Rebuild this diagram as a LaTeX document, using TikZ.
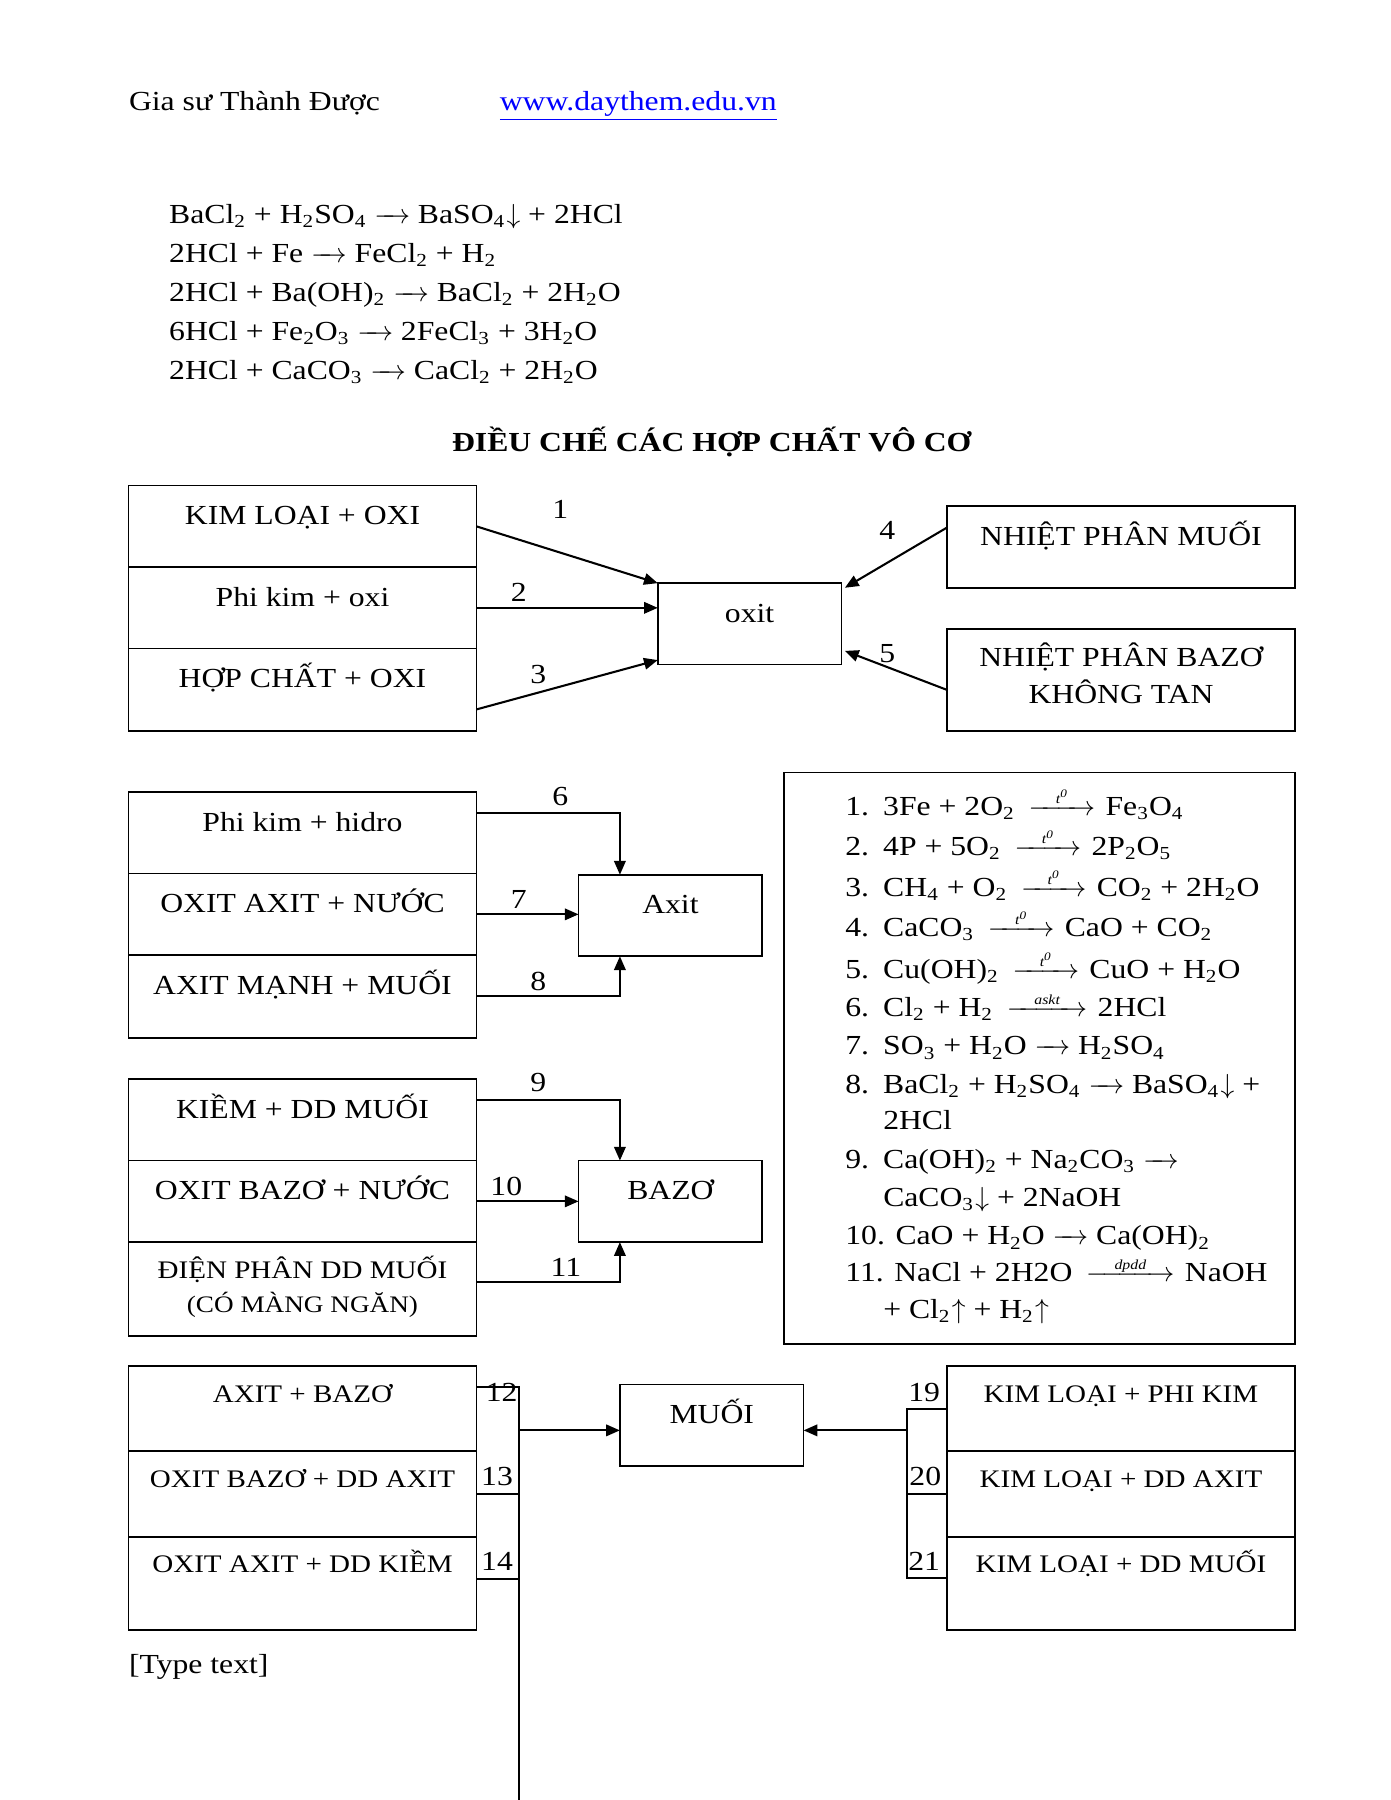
\documentclass[tikz,border=0pt]{standalone}
\usepackage{fontspec}
\setmainfont{Liberation Serif}[FakeStretch=1.15]
\usetikzlibrary{arrows.meta,calc}
\newcommand\lo[1]{\textsubscript{#1}}
\newcommand\ar{\makebox[15.5pt]{\rightarrowfill}}
\newcommand\dn{\hspace{0.5pt}$\downarrow$}
\newcommand\up{\hspace{0.5pt}$\uparrow$}
\newcommand\rx[2]{\hspace*{6pt}\makebox[#1]{\rightarrowfill}\llap{\makebox[#1]{\smash{\raisebox{5.2pt}{\fontsize{6}{6}\selectfont\itshape #2}}}}\hspace*{4.5pt}}
\newcommand\tz{t\textsuperscript{0}}
\newcommand\nm[1]{\makebox[16.5pt][l]{#1}}
\tikzset{
  every node/.style={font=\fontsize{12}{14}\selectfont},
  bx/.style 2 args={draw, line width=0.7pt, inner sep=0pt, outer sep=0pt, minimum width=#1, minimum height=#2},
  txt/.style={inner sep=0pt, anchor=base},
  stxt/.style={inner sep=0pt, anchor=base, font=\fontsize{11}{13}\selectfont},
  ltxt/.style={inner sep=0pt, anchor=base west},
  lab/.style={inner sep=0pt, anchor=base},
  arr/.style={line width=0.9pt, -{Triangle[length=6pt,width=5pt]}},
  ln/.style={line width=0.9pt}
}
\begin{document}
\begin{tikzpicture}[x=0.5pt,y=-0.5pt]
\useasboundingbox (0,0) rectangle (1211.7,1568);

% header
\node[ltxt] (h1) at (112,96) {Gia sư Thành Được};
\node[ltxt, text=blue] (h2) at (435,96) {\underline{www.daythem.edu.vn}};

% equations
\node[ltxt] (e1) at (147,194.5) {BaCl\lo2 + H\lo2SO\lo4 \ar{} BaSO\lo4\dn{} + 2HCl};
\node[ltxt] (e2) at (147,228.5) {2HCl + Fe \ar{} FeCl\lo2 + H\lo2};
\node[ltxt] (e3) at (147,262.5) {2HCl + Ba(OH)\lo2 \ar{} BaCl\lo2 + 2H\lo2O};
\node[ltxt] (e4) at (147,296.5) {6HCl + Fe\lo2O\lo3 \ar{} 2FeCl\lo3 + 3H\lo2O};
\node[ltxt] (e5) at (147,330.5) {2HCl + CaCO\lo3 \ar{} CaCl\lo2 + 2H\lo2O};

\node[txt, font=\fontsize{12}{14}\selectfont\bfseries] (title) at (620,393) {ĐIỀU CHẾ CÁC HỢP CHẤT VÔ CƠ};

% ---------- section 1: oxit
\node[bx={151.5pt}{35.5pt}] (a1) at (263.5,458.5) {};
\node[bx={151.5pt}{35.5pt}] (a2) at (263.5,529.5) {};
\node[bx={151.5pt}{36pt}] (a3) at (263.5,601) {};
\node[bx={80pt}{35.5pt}] (ox) at (653,543.5) {};
\node[bx={151.5pt}{35.5pt}] (r4) at (976.5,476.5) {};
\node[bx={151.5pt}{44.5pt}] (r5) at (976.5,592.5) {};
\node[txt] (ta1) at (263.5,457) {KIM LOẠI + OXI};
\node[txt] (ta2) at (263.5,528) {Phi kim + oxi};
\node[txt] (ta3) at (263.5,599) {HỢP CHẤT + OXI};
\node[txt] (tox) at (653,542) {oxit};
\node[txt] (tr4) at (976.5,475) {NHIỆT PHÂN MUỐI};
\node[txt] (tr5a) at (976.5,581) {NHIỆT PHÂN BAZƠ};
\node[txt] (tr5b) at (976.5,613) {KHÔNG TAN};
\node[lab] (n1) at (488,452) {1};
\node[lab] (n2) at (452,524) {2};
\node[lab] (n3) at (469,595) {3};
\node[lab] (n4) at (773,470) {4};
\node[lab] (n5) at (773,577) {5};
\draw[arr] (a1.east) -- (ox.north west);
\draw[arr] (a2.east) -- (ox.west |- a2.east);
\draw[arr] ($(a3.east)+(0,17)$) -- ($(ox.south west)+(0,-4)$);
\draw[arr] ($(r4.west)+(0,-17)$) -- ($(ox.north east)+(3,4)$);
\draw[arr] ($(r5.west)+(0,8.5)$) -- ($(ox.south east)+(3,-12)$);

% ---------- section 2: axit
\node[bx={151.5pt}{35.5pt}] (b1) at (263.5,725.5) {};
\node[bx={151.5pt}{35.5pt}] (b2) at (263.5,796.5) {};
\node[bx={151.5pt}{36pt}] (b3) at (263.5,868) {};
\node[bx={80pt}{35.5pt}] (ax) at (584,797.5) {};
\node[txt] (tb1) at (263.5,724) {Phi kim + hidro};
\node[txt] (tb2) at (263.5,795) {OXIT AXIT + NƯỚC};
\node[txt] (tb3) at (263.5,866) {AXIT MẠNH + MUỐI};
\node[txt] (tax) at (584,796) {Axit};
\node[lab] (n6) at (488,702) {6};
\node[lab] (n7) at (452,791) {7};
\node[lab] (n8) at (469,863) {8};
\draw[arr] ($(b1.east)+(0,-17.5)$) -| ($(ax.north west)+(36,0)$);
\draw[arr] (b2.east) -- (ax.west |- b2.east);
\draw[arr] (b3.east) -| ($(ax.south west)+(36,0)$);

% ---------- reactions box
\node[bx={222.5pt}{249pt}] (rb) at (905.5,922) {};
\node[ltxt] (q1) at (736,710) {\nm{1.}3Fe + 2O\lo2\rx{29pt}{\tz}Fe\lo3O\lo4};
\node[ltxt] (q2) at (736,745.5) {\nm{2.}4P + 5O\lo2\rx{29pt}{\tz}2P\lo2O\lo5};
\node[ltxt] (q3) at (736,781) {\nm{3.}CH\lo4 + O\lo2\rx{28.5pt}{\tz}CO\lo2 + 2H\lo2O};
\node[ltxt] (q4) at (736,816) {\nm{4.}CaCO\lo3\rx{29pt}{\tz}CaO + CO\lo2};
\node[ltxt] (q5) at (736,852) {\nm{5.}Cu(OH)\lo2\rx{29pt}{\tz}CuO + H\lo2O};
\node[ltxt] (q6) at (736,885.5) {\nm{6.}Cl\lo2 + H\lo2\rx{35pt}{askt}2HCl};
\node[ltxt] (q7) at (736,919) {\nm{7.}SO\lo3 + H\lo2O \ar{} H\lo2SO\lo4};
\node[ltxt] (q8) at (736,952.5) {\nm{8.}BaCl\lo2 + H\lo2SO\lo4 \ar{} BaSO\lo4\dn{} +};
\node[ltxt] (q8b) at (769,983.5) {2HCl};
\node[ltxt] (q9) at (736,1017.5) {\nm{9.}Ca(OH)\lo2 + Na\lo2CO\lo3 \ar};
\node[ltxt] (q9b) at (769,1051) {CaCO\lo3\dn{} + 2NaOH};
\node[ltxt] (q10) at (736,1084.5) {10. CaO + H\lo2O \ar{} Ca(OH)\lo2};
\node[ltxt] (q11) at (736,1116.5) {11. NaCl + 2H2O\rx{38.5pt}{dpdd}NaOH};
\node[ltxt] (q11b) at (769,1148.5) {+ Cl\lo2\up{} + H\lo2\up};

% ---------- section 3: bazo
\node[bx={151.5pt}{35.5pt}] (c1) at (263.5,975.5) {};
\node[bx={151.5pt}{35.5pt}] (c2) at (263.5,1046.5) {};
\node[bx={151.5pt}{41pt}] (c3) at (263.5,1123) {};
\node[bx={80pt}{35.5pt}] (bz) at (584,1046.5) {};
\node[txt] (tc1) at (263.5,974) {KIỀM + DD MUỐI};
\node[txt] (tc2) at (263.5,1045) {OXIT BAZƠ + NƯỚC};
\node[stxt] (tc3a) at (263.5,1114) {ĐIỆN PHÂN DD MUỐI};
\node[stxt, font=\fontsize{10.3}{12}\selectfont] (tc3b) at (263.5,1143) {(CÓ MÀNG NGĂN)};
\node[txt] (tbz) at (584,1045) {BAZƠ};
\node[lab] (n9) at (469,951) {9};
\node[lab] (n10) at (441,1041) {10};
\node[lab] (n11) at (493,1112) {11};
\draw[arr] ($(c1.east)+(0,-17.5)$) -| ($(bz.north west)+(36,0)$);
\draw[arr] (c2.east) -- (bz.west |- c2.east);
\draw[arr] ($(c3.east)+(0,-6)$) -| ($(bz.south west)+(36,0)$);

% ---------- section 4: muoi
\node[bx={151.5pt}{37pt}] (d1) at (263.5,1227) {};
\node[bx={151.5pt}{37.5pt}] (d2) at (263.5,1301.5) {};
\node[bx={151.5pt}{40.5pt}] (d3) at (263.5,1379.5) {};
\node[bx={151.5pt}{37pt}] (f1) at (976.5,1227) {};
\node[bx={151.5pt}{37.5pt}] (f2) at (976.5,1301.5) {};
\node[bx={151.5pt}{40.5pt}] (f3) at (976.5,1379.5) {};
\node[bx={80pt}{35.5pt}] (mu) at (620,1241.5) {};
\node[stxt] (td1) at (263.5,1222) {AXIT + BAZƠ};
\node[stxt] (td2) at (263.5,1296) {OXIT BAZƠ + DD AXIT};
\node[stxt] (td3) at (263.5,1370) {OXIT AXIT + DD KIỀM};
\node[stxt] (tf1) at (976.5,1222) {KIM LOẠI + PHI KIM};
\node[stxt] (tf2) at (976.5,1296) {KIM LOẠI + DD AXIT};
\node[stxt] (tf3) at (976.5,1370) {KIM LOẠI + DD MUỐI};
\node[txt] (tmu) at (620,1240) {MUỐI};
\node[lab] (n12) at (437,1221) {12};
\node[lab] (n13) at (433,1294) {13};
\node[lab] (n14) at (433,1368) {14};
\node[lab] (n19) at (805,1221) {19};
\node[lab] (n20) at (806,1294) {20};
\node[lab] (n21) at (805,1368) {21};
\coordinate (lt) at (452,1208);
\coordinate (lb) at (452,1568);
\coordinate (rt) at (790,1227);
\coordinate (rbm) at (790,1375);
\draw[ln] (d1.north east |- lt) -- (lt) -- (lb);
\draw[ln] (d2.east) -- (lt |- d2.east);
\draw[ln] ($(d3.east)+(0,-4)$) coordinate (t14) -- (lt |- t14);
\draw[arr] ($(lt)+(0,38)$) coordinate (am) -- (mu.west |- am);
\draw[ln] (f1.west |- rt) -- (rt) -- (rbm) -- (f3.west |- rbm);
\draw[ln] (f2.west) -- (rt |- f2.west);
\draw[arr] ($(rt)+(0,19)$) coordinate (bm) -- (mu.east |- bm);

\node[ltxt] (tt) at (112,1457.5) {[Type text]};
\end{tikzpicture}
\end{document}
